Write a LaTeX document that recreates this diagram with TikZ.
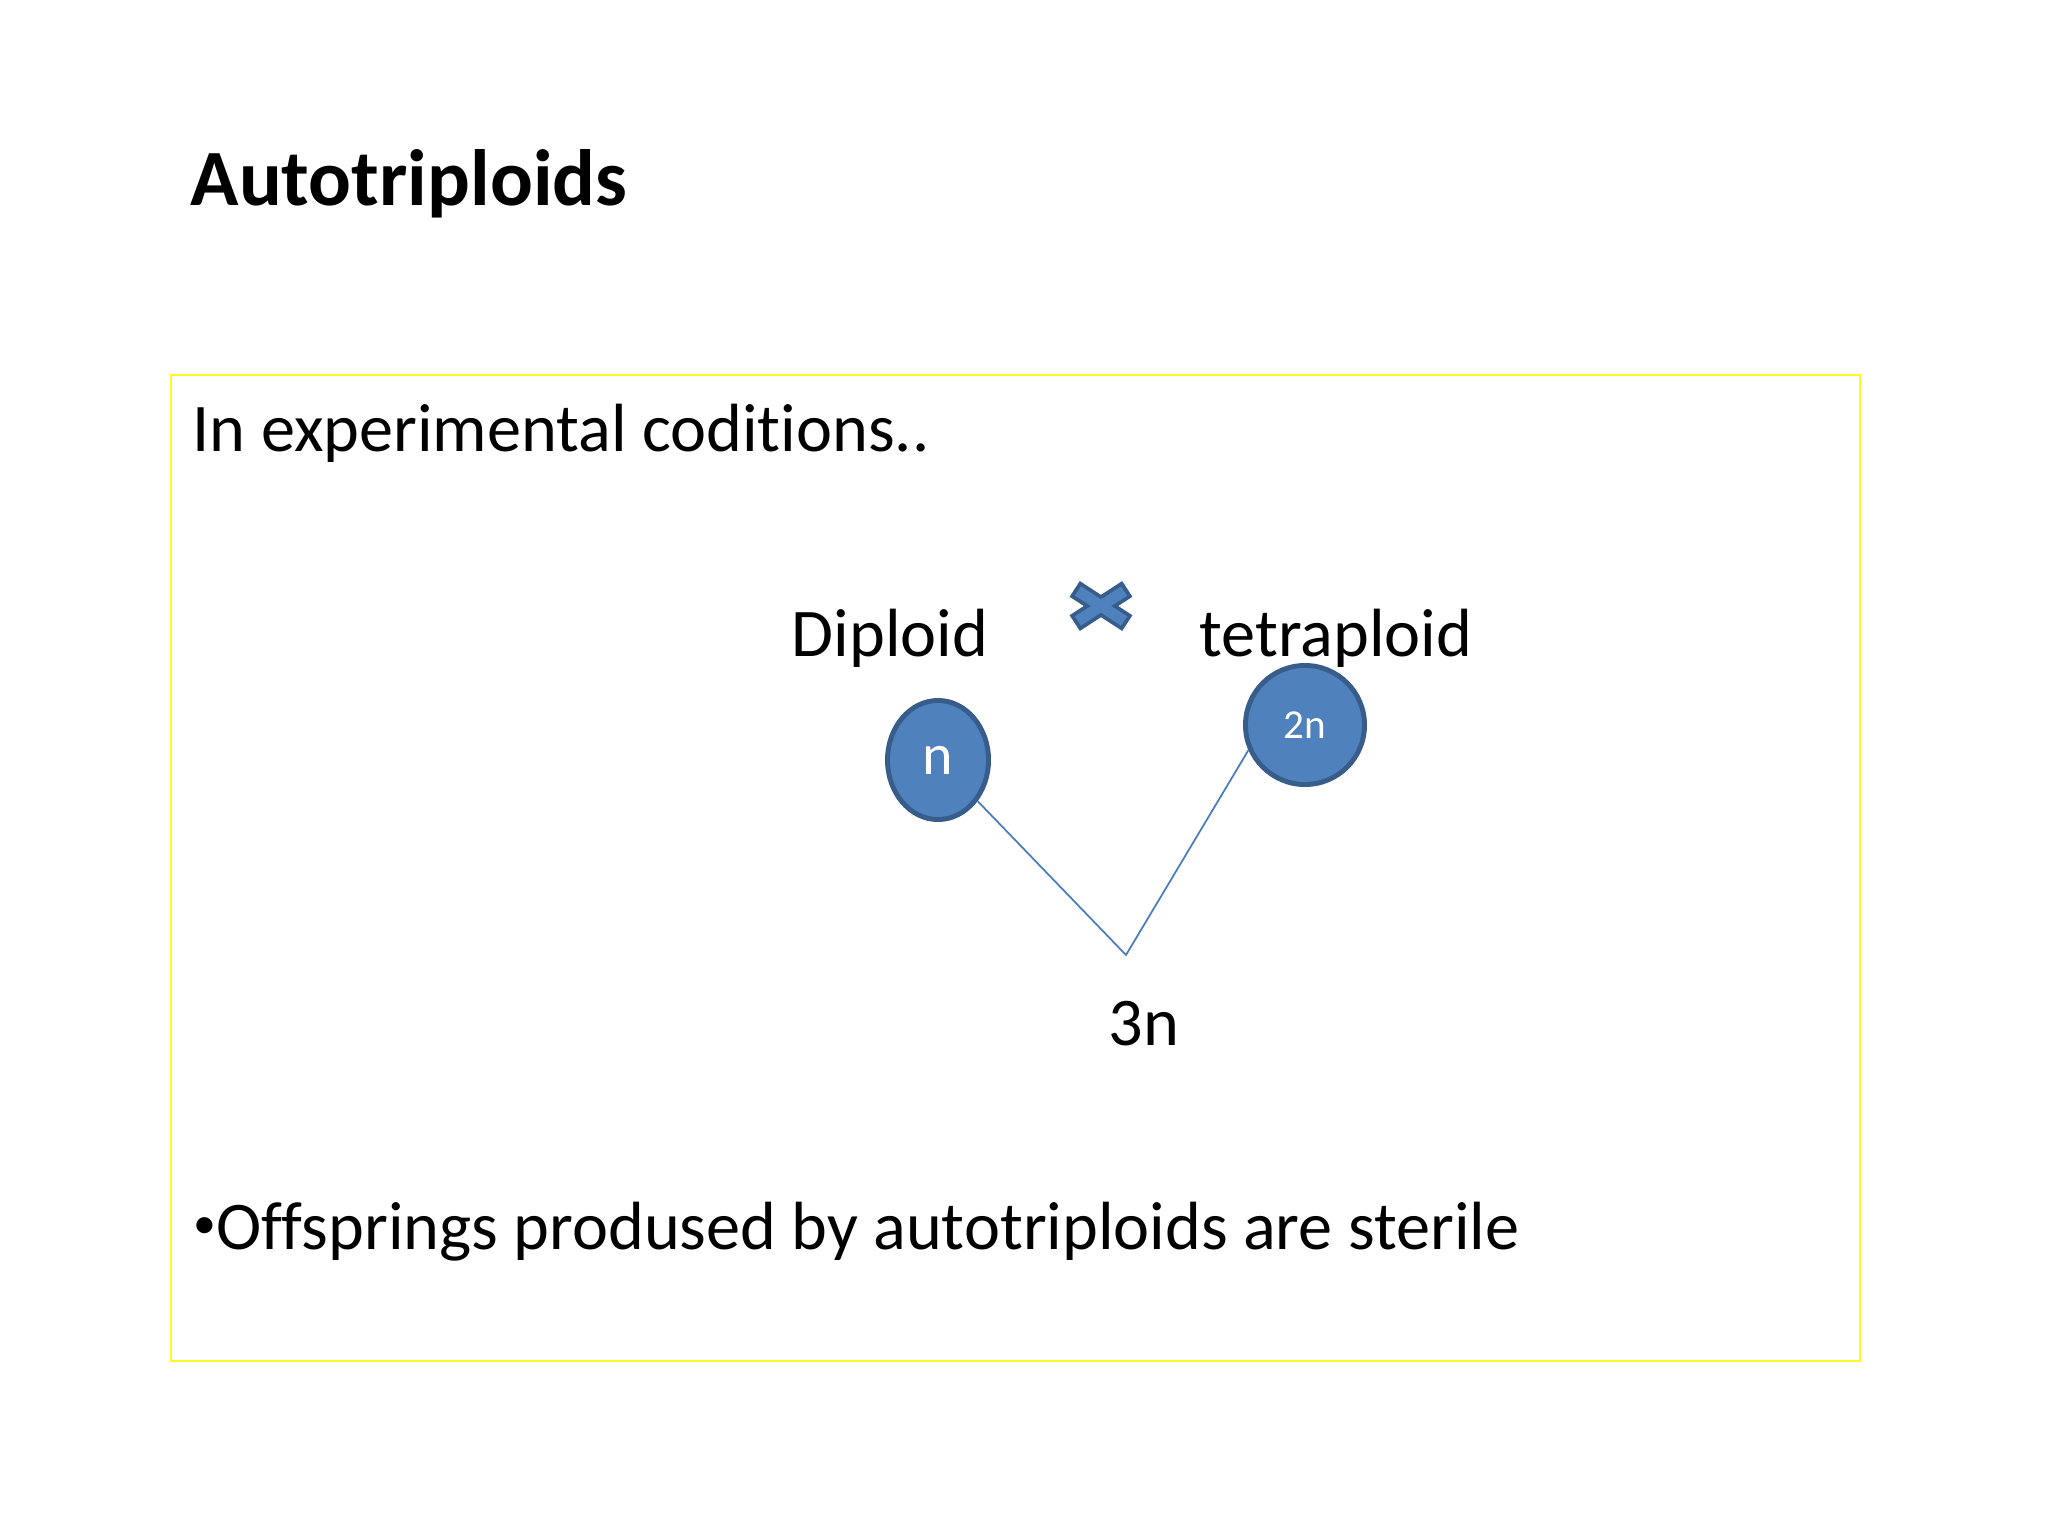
\documentclass[tikz,border=0pt]{standalone}
\usepackage{fontspec}
\setmainfont{Carlito}[Ligatures={NoCommon,NoContextual,NoRare}]
\usepackage{tikz}
\usetikzlibrary{shapes.geometric}
\definecolor{cellblue}{RGB}{79,129,189}
\definecolor{celledge}{RGB}{56,93,138}
\definecolor{linkblue}{RGB}{74,126,187}
\definecolor{boxyellow}{RGB}{250,250,40}
\newcommand{\smallbullet}{\raisebox{3.1pt}{\fontsize{13}{13}\selectfont •}}

\begin{document}
\begin{tikzpicture}[x=0.01cm,y=-0.01cm,
		txt/.style={anchor=base west, inner sep=0pt, font=\fontsize{19.4}{23}\selectfont},
		cell/.style={draw=celledge, fill=cellblue, line width=1.4pt, text=white, inner sep=0pt},
		link/.style={draw=linkblue, line width=0.5pt},
		cross/.style={draw=celledge, fill=cellblue, line width=1.1pt}]
	\useasboundingbox[fill=white] (0,0) rectangle (2048,1536);
	%
	\node [anchor=base west, inner sep=0pt, font=\fontsize{22.7}{27}\selectfont\bfseries] (title) at (190,205) {Autotriploids};
	\draw [boxyellow, line width=0.6pt] (171,375) rectangle (1860,1361);
	\node [txt] (cond) at (192,451) {In experimental coditions..};
	%
	\node [txt] (dip) at (791,656) {Diploid};
	\node [txt] (tet) at (1199,656) {tetraploid};
	\begin{scope}[shift={(1101,606)}]
		\path [cross, line width=2.2pt] [rotate=33] (-27.5,-5.5) rectangle (27.5,5.5);
		\path [cross, line width=2.2pt] [rotate=-33] (-27.5,-5.5) rectangle (27.5,5.5);
		\fill [cellblue] [rotate=33] (-27.5,-5.5) rectangle (27.5,5.5);
		\fill [cellblue] [rotate=-33] (-27.5,-5.5) rectangle (27.5,5.5);
	\end{scope}
	%
	\node [cell, ellipse, minimum width=1.01cm, minimum height=1.19cm, font=\fontsize{16.5}{18}\selectfont] (n) at (938,760) {n};
	\node [cell, circle, minimum size=1.19cm, font=\fontsize{11.7}{13}\selectfont] (tn) at (1305,725) {2n};
	\coordinate (v) at (1126,955);
	\draw [link] (n) -- (v) -- (tn.204);
	\node [txt] (tri) at (1108,1045) {3n};
	%
	\node [txt] (note) at (193,1249) {\smallbullet Offsprings prodused by autotriploids are sterile};
\end{tikzpicture}
\end{document}
